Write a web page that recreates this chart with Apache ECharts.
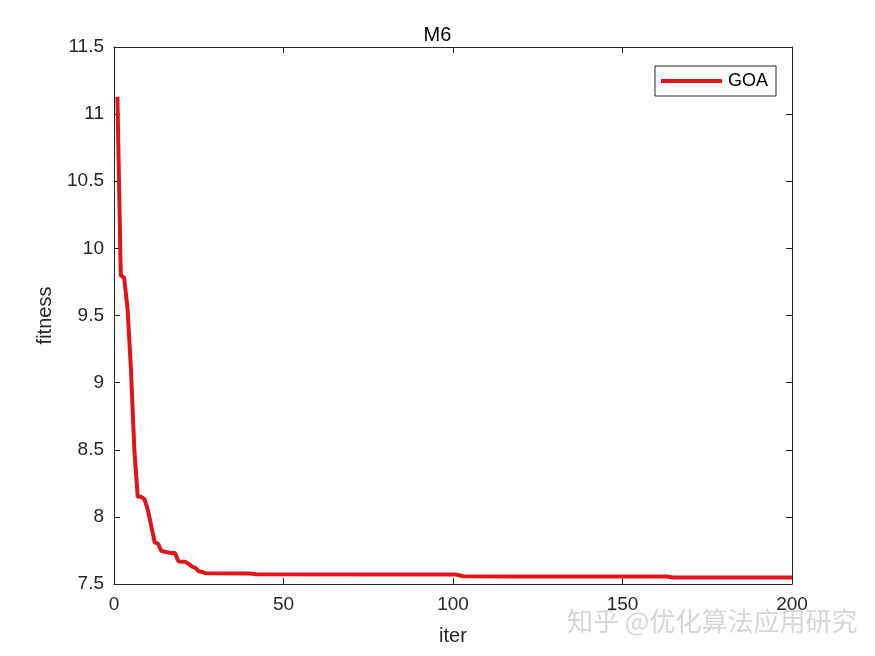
<!DOCTYPE html>
<html>
<head>
<meta charset="utf-8">
<script src="https://cdn.jsdelivr.net/npm/echarts@6/dist/echarts.min.js"></script>
<style>html,body{margin:0;padding:0;background:#fff}#c{width:875px;height:656px}</style>
</head>
<body>
<div id="c"></div>
<script>
var titleText = 'M6';
var seriesName = 'GOA';
var iters = [1,2,3,4,5,6,7,8,9,10,11,12,13,14,15,16,17,18,19,20,21,22,23,24,25,26,27,40,42,101,103,118,163,165,200];
var fitness = [11.13,9.80,9.78,9.55,9.10,8.50,8.15,8.15,8.13,8.05,7.93,7.81,7.80,7.745,7.74,7.735,7.73,7.73,7.67,7.665,7.665,7.65,7.63,7.62,7.595,7.59,7.58,7.578,7.572,7.570,7.558,7.556,7.556,7.548,7.548];
var xTicks = {min:0, max:200, interval:50};
var yTicks = {min:7.5, max:11.5, interval:0.5};

var data = iters.map(function(v,i){return [v, fitness[i]];});
var axisCol = '#262626';
var font = 'Liberation Sans, Arial, sans-serif';
var chart = echarts.init(document.getElementById('c'));
var baseAxis = {
  axisLine:{show:true, onZero:false, lineStyle:{color:axisCol, width:1}},
  axisTick:{show:true, inside:true, length:6, lineStyle:{color:axisCol}},
  splitLine:{show:false},
  axisLabel:{color:axisCol, fontSize:19, fontFamily:font}
};
chart.setOption({
  animation:false,
  title:{text:titleText, left:'center', top:20, textStyle:{fontSize:20, fontWeight:'normal', color:'#000', fontFamily:font}},
  grid:{left:114, right:83, top:47, bottom:72},
  legend:{data:[{name:seriesName, icon:'rect'}], right:99, top:66, borderColor:axisCol, borderWidth:1, borderRadius:0,
    padding:[6,8,6,6], itemWidth:61, itemHeight:4, itemGap:5,
    textStyle:{fontSize:18, color:'#000', fontFamily:font, padding:[0,0,0,1]}},
  xAxis:[
    Object.assign({}, baseAxis, {type:'value', min:xTicks.min, max:xTicks.max, interval:xTicks.interval, position:'bottom',
      name:'iter', nameLocation:'middle', nameGap:42, nameTextStyle:{fontSize:20, color:axisCol, fontFamily:font},
      axisLabel:{color:axisCol, fontSize:19, fontFamily:font, margin:11}}),
    Object.assign({}, baseAxis, {type:'value', min:xTicks.min, max:xTicks.max, interval:xTicks.interval, position:'top',
      axisLabel:{show:false}})
  ],
  yAxis:[
    Object.assign({}, baseAxis, {type:'value', min:yTicks.min, max:yTicks.max, interval:yTicks.interval, position:'left',
      name:'fitness', nameLocation:'middle', nameGap:59, nameTextStyle:{fontSize:20, color:axisCol, fontFamily:font},
      axisLabel:{color:axisCol, fontSize:19, fontFamily:font, margin:10}}),
    Object.assign({}, baseAxis, {type:'value', min:yTicks.min, max:yTicks.max, interval:yTicks.interval, position:'right',
      axisLabel:{show:false}})
  ],
  series:[{
    name:seriesName, type:'line', data:data, symbol:'none', xAxisIndex:0, yAxisIndex:0,
    lineStyle:{color:'#e0141a', width:4}, itemStyle:{color:'#e0141a'}
  }],
  graphic:[{
    type:'text', left:567, top:608, silent:true,
    style:{text:'知乎 @优化算法应用研究', fontSize:26, fill:'#d6d6d6', fontFamily:'Noto Sans CJK SC',
      shadowColor:'rgba(0,0,0,0.35)', shadowOffsetX:1, shadowOffsetY:1, shadowBlur:1}
  }]
});
</script>
</body>
</html>
